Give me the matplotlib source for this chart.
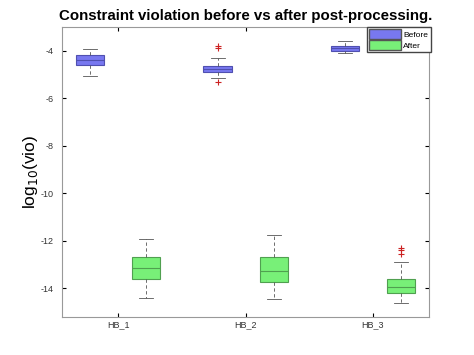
import matplotlib.pyplot as plt
from matplotlib.patches import Patch

plt.rcParams['font.family'] = ['Liberation Sans', 'DejaVu Sans']

groups = ['HB_1', 'HB_2', 'HB_3']

# box stats (log10 scale)
before_med = [-4.39, -4.77, -3.90]
before_q1 = [-4.60, -4.90, -4.01]
before_q3 = [-4.18, -4.63, -3.80]
before_lo = [-5.08, -5.16, -4.10]
before_hi = [-3.93, -4.29, -3.57]
before_out = [[], [-3.79, -3.90, -5.33], []]

after_med = [-13.12, -13.27, -13.92]
after_q1 = [-13.60, -13.74, -14.18]
after_q3 = [-12.66, -12.66, -13.60]
after_lo = [-14.41, -14.46, -14.60]
after_hi = [-11.91, -11.77, -12.87]
after_out = [[], [], [-12.29, -12.40, -12.54]]


def make_stats(med, q1, q3, lo, hi, out):
    st = []
    for i in range(len(med)):
        st.append(dict(med=med[i], q1=q1[i], q3=q3[i], whislo=lo[i],
                       whishi=hi[i], fliers=out[i]))
    return st


fig = plt.figure(figsize=(4.74, 3.55), dpi=100)
ax = fig.add_axes([0.131, 0.107, 0.774, 0.817])

pos = [1, 2, 3]
styles = [('#7878f0', '#5050b0', -0.22, 'Before'),
          ('#78f078', '#50a050', 0.22, 'After')]
data = [make_stats(before_med, before_q1, before_q3, before_lo, before_hi, before_out),
        make_stats(after_med, after_q1, after_q3, after_lo, after_hi, after_out)]

for (fc, ec, off, lab), st in zip(styles, data):
    ax.bxp(st, positions=[p + off for p in pos], widths=0.22, patch_artist=True,
           boxprops=dict(facecolor=fc, edgecolor=ec, linewidth=0.8),
           medianprops=dict(color=ec, linewidth=0.8),
           whiskerprops=dict(color='#555555', linestyle=(0, (4, 3)), linewidth=0.6),
           capprops=dict(color='#555555', linewidth=0.6),
           flierprops=dict(marker='+', markeredgecolor='#cc2222', markersize=5,
                           markeredgewidth=0.8))

ax.set_xlim(0.56, 3.44)
ax.set_ylim(-15.2, -3)
ax.set_xticks(pos)
ax.set_xticklabels(groups, fontsize=6.5, color='#333333')
ax.set_yticks([-4, -6, -8, -10, -12, -14])
ax.set_yticklabels(['-4', '-6', '-8', '-10', '-12', '-14'], color='#333333')
ax.tick_params(axis='y', labelsize=6.5, direction='in', right=True, length=3, pad=6)
ax.tick_params(axis='x', direction='in', top=True, length=3, pad=2)
for s in ax.spines.values():
    s.set_color('#999999')
    s.set_linewidth(0.8)

ax.set_ylabel('log$_{10}$(vio)', fontsize=12.5)
ax.yaxis.set_label_coords(-0.06, 0.5)
ax.set_title('Constraint violation before vs after post-processing.',
             fontsize=10.8, fontweight='bold', pad=5)

handles = [Patch(facecolor=styles[0][0], edgecolor='#555555', label='Before'),
           Patch(facecolor=styles[1][0], edgecolor='#555555', label='After')]
ax.legend(handles=handles, loc='upper right', fontsize=6, fancybox=False,
          framealpha=1, edgecolor='#444444', handlelength=3.8, handleheight=1.3,
          borderaxespad=0.0, bbox_to_anchor=(1.005, 1.0), borderpad=0.3,
          labelspacing=0.2, handletextpad=0.3)

fig.savefig('out.png', dpi=100)
